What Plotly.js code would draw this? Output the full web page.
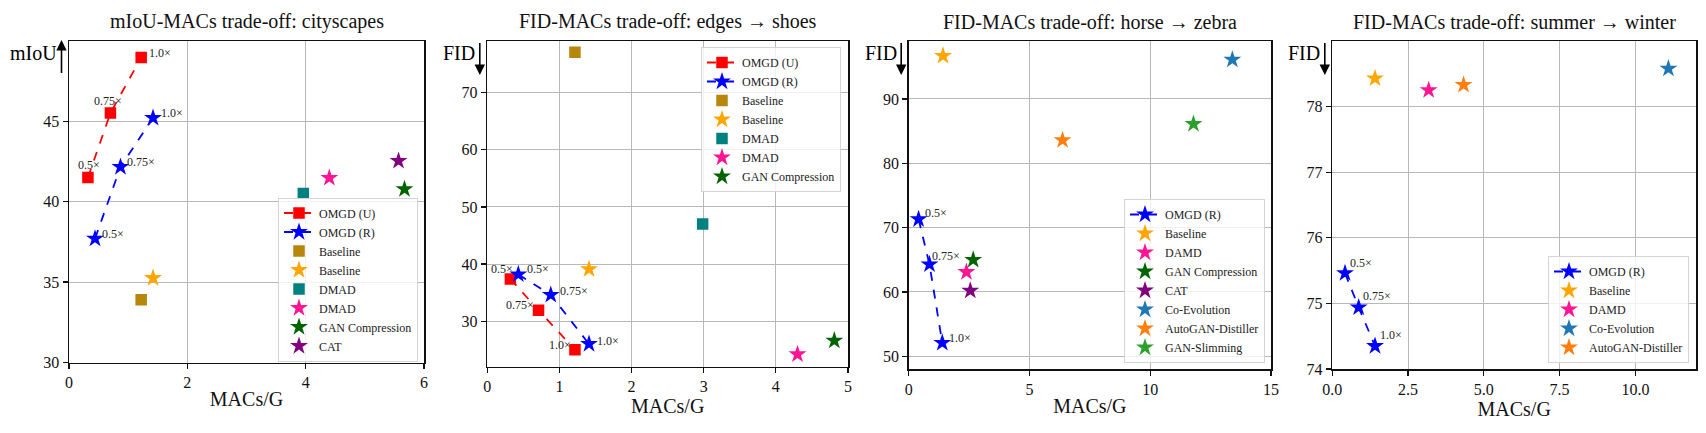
<!DOCTYPE html>
<html><head><meta charset="utf-8">
<script src="https://cdn.plot.ly/plotly-3.0.1.min.js"></script>
<style>html,body{margin:0;padding:0;background:#fff}#chart{width:1706px;height:433px}</style>
</head><body><div id="chart"></div>
<script>
// ---------------- DATA ----------------
const scaleLabels = ["0.5×", "0.75×", "1.0×"];
const xAxisTitle = "MACs/G";

// Panel 1: cityscapes (mIoU, higher is better)
const p1Title = "mIoU-MACs trade-off: cityscapes";
const p1Metric = "mIoU";
const p1OmgdUx = [0.32, 0.70, 1.22];
const p1OmgdUy = [41.5, 45.5, 48.95];
const p1OmgdRx = [0.44, 0.87, 1.42];
const p1OmgdRy = [37.7, 42.15, 45.2];
const p1Methods = ["Baseline", "Baseline", "DMAD", "DMAD", "GAN Compression", "CAT"];
const p1MethodX = [1.22, 1.42, 3.96, 4.40, 5.67, 5.57];
const p1MethodY = [33.9, 35.25, 40.5, 41.47, 40.77, 42.53];
const p1XTicks = [0, 2, 4, 6];
const p1YTicks = [30, 35, 40, 45];

// Panel 2: edges -> shoes (FID, lower is better)
const p2Title = "FID-MACs trade-off: edges → shoes";
const p2Metric = "FID";
const p2OmgdUx = [0.32, 0.71, 1.215];
const p2OmgdUy = [37.4, 31.9, 25.0];
const p2OmgdRx = [0.43, 0.88, 1.41];
const p2OmgdRy = [38.2, 34.6, 26.0];
const p2Methods = ["Baseline", "Baseline", "DMAD", "DMAD", "GAN Compression"];
const p2MethodX = [1.215, 1.41, 2.985, 4.30, 4.81];
const p2MethodY = [77.1, 39.1, 47.0, 24.2, 26.6];
const p2XTicks = [0, 1, 2, 3, 4, 5];
const p2YTicks = [30, 40, 50, 60, 70];

// Panel 3: horse -> zebra
const p3Title = "FID-MACs trade-off: horse → zebra";
const p3Metric = "FID";
const p3OmgdRx = [0.41, 0.86, 1.39];
const p3OmgdRy = [71.3, 64.3, 52.1];
const p3Methods = ["Baseline", "DAMD", "GAN Compression", "CAT", "Co-Evolution", "AutoGAN-Distiller", "GAN-Slimming"];
const p3MethodX = [1.42, 2.39, 2.67, 2.55, 13.40, 6.37, 11.79];
const p3MethodY = [96.7, 63.1, 65.0, 60.2, 96.1, 83.6, 86.1];
const p3XTicks = [0, 5, 10, 15];
const p3YTicks = [50, 60, 70, 80, 90];

// Panel 4: summer -> winter
const p4Title = "FID-MACs trade-off: summer → winter";
const p4Metric = "FID";
const p4OmgdRx = [0.42, 0.87, 1.41];
const p4OmgdRy = [75.46, 74.94, 74.35];
const p4Methods = ["Baseline", "DAMD", "Co-Evolution", "AutoGAN-Distiller"];
const p4MethodX = [1.41, 3.18, 11.09, 4.33];
const p4MethodY = [78.43, 78.25, 78.58, 78.33];
const p4XTicks = [0, 2.5, 5, 7.5, 10];
const p4XTickText = ["0.0", "2.5", "5.0", "7.5", "10.0"];
const p4YTicks = [74, 75, 76, 77, 78];

// ---------------- STYLE ----------------
const W = 1706, H = 433;
const FONT = "Liberation Serif, Times New Roman, serif";
const SQ = 11.5, ST = 13.5;
const p1Style = [["square", "#b8860b"], ["star", "#ffa500"], ["square", "#008080"], ["star", "#ff1493"], ["star", "#006400"], ["star", "#800080"]];
const p2Style = [["square", "#b8860b"], ["star", "#ffa500"], ["square", "#008080"], ["star", "#ff1493"], ["star", "#006400"]];
const p3Style = [["star", "#ffa500"], ["star", "#ff1493"], ["star", "#006400"], ["star", "#800080"], ["star", "#1f77b4"], ["star", "#ff7f0e"], ["star", "#2ca02c"]];
const p4Style = [["star", "#ffa500"], ["star", "#ff1493"], ["star", "#1f77b4"], ["star", "#ff7f0e"]];

// plot areas in pixels [left, top, right, bottom]
const boxes = [[69, 41, 424, 362.5], [487.3, 41, 848, 366.5], [908.7, 41, 1271, 369], [1332.3, 41, 1696, 369]];

const traces = [];
const annotations = [];
const legendNames = ["legend", "legend2", "legend3", "legend4"];

function sfx(i) { return i === 0 ? "" : String(i + 1); }

function addSeries(i, name, xs, ys, color, symbol, size) {
  traces.push({
    type: "scatter", mode: "lines+markers", name: name, x: xs, y: ys,
    xaxis: "x" + sfx(i), yaxis: "y" + sfx(i), legend: legendNames[i],
    line: {color: color, dash: "dash", width: 1.8},
    marker: {symbol: symbol, size: size, color: color}
  });
}
function addPoints(i, names, xs, ys, styles) {
  names.forEach((n, k) => {
    const st = styles[k];
    traces.push({
      type: "scatter", mode: "markers", name: n, x: [xs[k]], y: [ys[k]],
      xaxis: "x" + sfx(i), yaxis: "y" + sfx(i), legend: legendNames[i],
      marker: {symbol: st[0], size: st[0] === "square" ? SQ : ST, color: st[1]}
    });
  });
}
function addLabels(i, xs, ys, offs) {
  xs.forEach((x, k) => {
    const o = offs[k];
    annotations.push({
      xref: "x" + sfx(i), yref: "y" + sfx(i), x: x, y: ys[k], text: scaleLabels[k],
      showarrow: false, xanchor: o[0], yanchor: "middle", xshift: o[1], yshift: o[2],
      font: {family: FONT, size: 12, color: "#222"}
    });
  });
}

// Panel 1
addSeries(0, "OMGD (U)", p1OmgdUx, p1OmgdUy, "red", "square", SQ);
addSeries(0, "OMGD (R)", p1OmgdRx, p1OmgdRy, "blue", "star", ST);
addPoints(0, p1Methods, p1MethodX, p1MethodY, p1Style);
addLabels(0, p1OmgdUx, p1OmgdUy, [["left", -12, 12], ["left", -18, 12], ["left", 6, 5]]);
addLabels(0, p1OmgdRx, p1OmgdRy, [["left", 5, 5], ["left", 5, 5], ["left", 6, 5]]);
// Panel 2
addSeries(1, "OMGD (U)", p2OmgdUx, p2OmgdUy, "red", "square", SQ);
addSeries(1, "OMGD (R)", p2OmgdRx, p2OmgdRy, "blue", "star", ST);
addPoints(1, p2Methods, p2MethodX, p2MethodY, p2Style);
addLabels(1, p2OmgdUx, p2OmgdUy, [["right", 5, 10], ["right", -3, 5], ["right", -2, 5]]);
addLabels(1, p2OmgdRx, p2OmgdRy, [["left", 7, 5], ["left", 7, 4], ["left", 6, 3]]);
// Panel 3
addSeries(2, "OMGD (R)", p3OmgdRx, p3OmgdRy, "blue", "star", ST);
addPoints(2, p3Methods, p3MethodX, p3MethodY, p3Style);
addLabels(2, p3OmgdRx, p3OmgdRy, [["left", 4, 6], ["left", 1, 8], ["left", 5, 5]]);
// Panel 4
addSeries(3, "OMGD (R)", p4OmgdRx, p4OmgdRy, "blue", "star", ST);
addPoints(3, p4Methods, p4MethodX, p4MethodY, p4Style);
addLabels(3, p4OmgdRx, p4OmgdRy, [["left", 3, 10], ["left", 2, 11], ["left", 3, 11]]);

const titles = [p1Title, p2Title, p3Title, p4Title];
const metrics = [p1Metric, p2Metric, p3Metric, p4Metric];
const xTicks = [p1XTicks, p2XTicks, p3XTicks, p4XTicks];
const xTickText = [null, null, null, p4XTickText];
const yTicks = [p1YTicks, p2YTicks, p3YTicks, p4YTicks];
const xRanges = [[0, 6], [0, 5], [0, 15], [0, 12]];
const yRanges = [[30, 49.98], [22.06, 79.05], [48.03, 99.0], [74, 79.0]];
const legendPos = [
  {x: 418, y: 361.5, xanchor: "right", yanchor: "bottom"},
  {x: 841, y: 47, xanchor: "right", yanchor: "top"},
  {x: 1265, y: 363, xanchor: "right", yanchor: "bottom"},
  {x: 1689, y: 363, xanchor: "right", yanchor: "bottom"}
];

const layout = {
  width: W, height: H, margin: {l: 0, r: 0, t: 0, b: 0},
  paper_bgcolor: "#fff", plot_bgcolor: "#fff",
  font: {family: FONT, color: "#111"},
  annotations: annotations, showlegend: true
};

boxes.forEach((b, i) => {
  const xd = [b[0] / W, b[2] / W], yd = [1 - b[3] / H, 1 - b[1] / H];
  const ax = {
    showline: true, mirror: true, linecolor: "#111", linewidth: 1.5,
    showgrid: true, gridcolor: "#b8b8b8", gridwidth: 1, zeroline: false,
    ticks: "outside", ticklen: 5, tickwidth: 1.2, tickcolor: "#111",
    tickfont: {family: FONT, size: 16, color: "#111"}, fixedrange: true
  };
  layout["xaxis" + sfx(i)] = Object.assign({}, ax, {
    domain: xd, anchor: "y" + sfx(i), range: xRanges[i],
    tickmode: "array", tickvals: xTicks[i], ticktext: xTickText[i] || xTicks[i].map(String),
    title: {text: xAxisTitle, font: {family: FONT, size: 20, color: "#111"}, standoff: 2}
  });
  layout["yaxis" + sfx(i)] = Object.assign({}, ax, {
    domain: yd, anchor: "x" + sfx(i), range: yRanges[i],
    tickmode: "array", tickvals: yTicks[i], ticktext: yTicks[i].map(String)
  });
  const lp = legendPos[i];
  layout[legendNames[i]] = {
    x: lp.x / W, y: 1 - lp.y / H, xanchor: lp.xanchor, yanchor: lp.yanchor,
    xref: "paper", yref: "paper",
    bgcolor: "rgba(255,255,255,0.8)", bordercolor: "#d4d4d4", borderwidth: 1,
    font: {family: FONT, size: 12, color: "#222"}, tracegroupgap: 0
  };
  // subplot title
  annotations.push({
    xref: "paper", yref: "paper", x: (b[0] + b[2]) / 2 / W, y: 1 - 22 / H,
    xanchor: "center", yanchor: "middle", showarrow: false, text: titles[i],
    font: {family: FONT, size: 20, color: "#111"}
  });
  // metric label with arrow
  const up = i === 0;
  annotations.push({
    xref: "paper", yref: "paper", x: (b[0] - 10) / W, y: 1 - 53 / H,
    xanchor: "right", yanchor: "middle", showarrow: false, text: metrics[i],
    font: {family: FONT, size: 20, color: "#000"}
  });
  annotations.push({
    xref: "paper", yref: "paper", x: (b[0] - 7.5) / W, y: 1 - (up ? 40 : 75) / H,
    ax: 0, ay: up ? 35 : -34, text: " ", showarrow: true,
    arrowhead: 2, arrowsize: 1.3, arrowwidth: 1.6, arrowcolor: "#000",
    font: {size: 1}, standoff: 0, startstandoff: 0
  });
});

Plotly.newPlot("chart", traces, layout, {displayModeBar: false, staticPlot: true});
</script>
</body></html>
